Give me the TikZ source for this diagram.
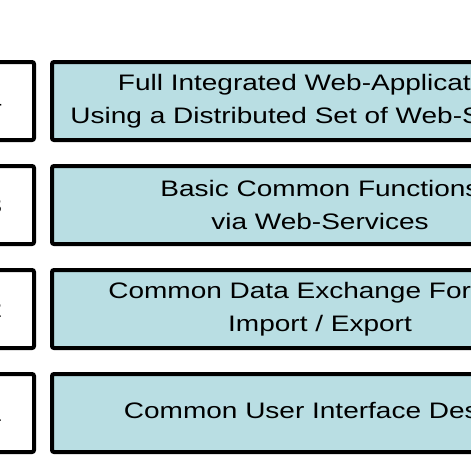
\documentclass[tikz,border=0pt]{standalone}
\usepackage{fontspec}
\setmainfont{Liberation Sans}[FakeStretch=1.25]
\usepackage{tikz}
\definecolor{layerblue}{RGB}{185,222,227}

\begin{document}
\begin{tikzpicture}[x=1pt,y=-1pt,
        layer/.style={draw,line width=4pt,rounded corners=2pt,fill=layerblue,minimum width=536pt,minimum height=78pt,align=center,inner sep=0pt,font=\fontsize{22.4}{33}\selectfont},
        tag/.style={draw,line width=4pt,rounded corners=2pt,minimum width=134pt,minimum height=78pt},
        tagtext/.style={anchor=east,inner sep=0pt,font=\fontsize{22.4}{33}\selectfont}]
    \useasboundingbox (0,0) rectangle (471,471);
    \foreach \y/\n/\t in {101/4/{Full Integrated Web-Applications\\Using a Distributed Set of Web-Services},
                          205/3/{Basic Common Functions\\via Web-Services},
                          309/2/{Common Data Exchange Formats\\Import / Export},
                          413/1/{Common User Interface Design}} {
        \node[tag] (tag\n) at (-33,\y) {};
        \node[tagtext] (num\n) at (2.5,\y+1) {\n};
        \node[layer] (layer\n) at (320,\y) {\t};
    }
\end{tikzpicture}
\end{document}
